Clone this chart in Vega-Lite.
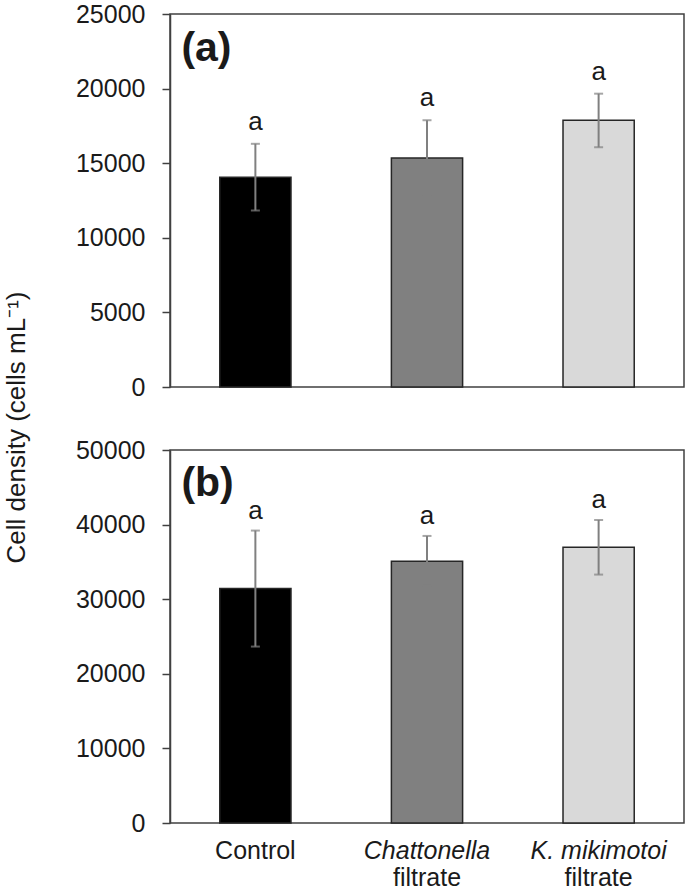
{
  "$schema": "https://vega.github.io/schema/vega-lite/v6.json",
  "padding": {"left": 2, "top": 1, "right": 2, "bottom": 0},
  "bounds": "flush",
  "spacing": 63,
  "config": {
    "font": "Liberation Sans",
    "view": {"stroke": "#404040", "strokeWidth": 1.5},
    "axis": {
      "labelFont": "Liberation Sans",
      "labelColor": "#1a1a1a",
      "titleFont": "Liberation Sans",
      "titleColor": "#1a1a1a",
      "titleFontWeight": "normal",
      "domainColor": "#404040",
      "domainWidth": 1.5,
      "tickColor": "#404040",
      "tickWidth": 1.5,
      "grid": false
    },
    "text": {"font": "Liberation Sans", "color": "#1a1a1a"}
  },
  "datasets": {
    "cells": [
      {"panel": "a", "group": "Control", "mean": 14050, "lo": 11830, "hi": 16300, "sig": "a"},
      {"panel": "a", "group": "Chattonella", "mean": 15350, "lo": 12800, "hi": 17880, "sig": "a"},
      {"panel": "a", "group": "K. mikimotoi", "mean": 17880, "lo": 16070, "hi": 19660, "sig": "a"},
      {"panel": "b", "group": "Control", "mean": 31450, "lo": 23650, "hi": 39200, "sig": "a"},
      {"panel": "b", "group": "Chattonella", "mean": 35100, "lo": 31800, "hi": 38480, "sig": "a"},
      {"panel": "b", "group": "K. mikimotoi", "mean": 36950, "lo": 33300, "hi": 40620, "sig": "a"}
    ]
  },
  "vconcat": [
    {
      "width": 514,
      "height": 373,
      "data": {"name": "cells"},
      "transform": [{"filter": "datum.panel == 'a'"}],
      "encoding": {
        "x": {
          "field": "group",
          "type": "nominal",
          "sort": ["Control", "Chattonella", "K. mikimotoi"],
          "scale": {"paddingInner": 0.585, "paddingOuter": 0.29},
          "axis": null
        }
      },
      "layer": [
        {
          "mark": {"type": "bar", "stroke": "#262626", "strokeWidth": 1.5},
          "encoding": {
            "y": {
              "field": "mean",
              "type": "quantitative",
              "scale": {"domain": [0, 25000], "nice": false},
              "axis": {
                "values": [0, 5000, 10000, 15000, 20000, 25000],
                "format": "d",
                "labelFontSize": 25,
                "tickSize": 8,
                "labelPadding": 17,
                "title": "Cell density (cells mL⁻¹)",
                "titleFontSize": 26,
                "titleAngle": -90,
                "titleX": -154,
                "titleY": 413,
                "titleAlign": "center",
                "titleBaseline": "middle"
              }
            },
            "fill": {
              "field": "group",
              "type": "nominal",
              "scale": {"domain": ["Control", "Chattonella", "K. mikimotoi"], "range": ["#000000", "#808080", "#d9d9d9"]},
              "legend": null
            }
          }
        },
        {
          "mark": {"type": "rule", "color": "#808080", "strokeWidth": 2},
          "encoding": {"y": {"field": "lo", "type": "quantitative"}, "y2": {"field": "hi"}}
        },
        {
          "mark": {"type": "tick", "orient": "horizontal", "color": "#808080", "size": 9, "thickness": 2},
          "encoding": {"y": {"field": "lo", "type": "quantitative"}}
        },
        {
          "mark": {"type": "tick", "orient": "horizontal", "color": "#808080", "size": 9, "thickness": 2},
          "encoding": {"y": {"field": "hi", "type": "quantitative"}}
        },
        {
          "mark": {"type": "text", "fontSize": 26, "baseline": "alphabetic", "dy": -14},
          "encoding": {"y": {"field": "hi", "type": "quantitative"}, "text": {"field": "sig"}}
        },
        {
          "data": {"values": [{"label": "(a)"}]},
          "mark": {"type": "text", "fontSize": 41, "fontWeight": "bold", "align": "left", "baseline": "middle", "dx": -74},
          "encoding": {
            "x": {"datum": "Control"},
            "y": {"datum": 22650},
            "text": {"field": "label"}
          }
        }
      ]
    },
    {
      "width": 514,
      "height": 373,
      "data": {"name": "cells"},
      "transform": [{"filter": "datum.panel == 'b'"}],
      "resolve": {"axis": {"x": "independent"}},
      "layer": [
        {
          "mark": {"type": "bar", "stroke": "#262626", "strokeWidth": 1.5},
          "encoding": {
            "x": {
              "field": "group",
              "type": "nominal",
              "sort": ["Control", "Chattonella", "K. mikimotoi"],
              "scale": {"paddingInner": 0.585, "paddingOuter": 0.29},
              "axis": {
                "orient": "bottom",
                "title": null,
                "domain": false,
                "ticks": false,
                "labelAngle": 0,
                "labelFontSize": 25,
                "labelPadding": 15,
                "labelFontStyle": {"condition": {"test": "datum.value == 'Control'", "value": "normal"}, "value": "italic"}
              }
            },
            "y": {
              "field": "mean",
              "type": "quantitative",
              "scale": {"domain": [0, 50000], "nice": false},
              "axis": {
                "values": [0, 10000, 20000, 30000, 40000, 50000],
                "format": "d",
                "labelFontSize": 25,
                "tickSize": 8,
                "labelPadding": 17,
                "title": null
              }
            },
            "fill": {
              "field": "group",
              "type": "nominal",
              "scale": {"domain": ["Control", "Chattonella", "K. mikimotoi"], "range": ["#000000", "#808080", "#d9d9d9"]},
              "legend": null
            }
          }
        },
        {
          "mark": {"type": "rule", "color": "#808080", "strokeWidth": 2},
          "encoding": {
            "x": {
              "field": "group",
              "type": "nominal",
              "sort": ["Control", "Chattonella", "K. mikimotoi"],
              "axis": {
                "orient": "bottom",
                "title": null,
                "domain": false,
                "ticks": false,
                "labelAngle": 0,
                "labelFontSize": 25,
                "labelPadding": 42,
                "labelExpr": "datum.value == 'Control' ? '' : 'filtrate'"
              }
            },
            "y": {"field": "lo", "type": "quantitative"},
            "y2": {"field": "hi"}
          }
        },
        {
          "mark": {"type": "tick", "orient": "horizontal", "color": "#808080", "size": 9, "thickness": 2},
          "encoding": {
            "x": {"field": "group", "type": "nominal", "sort": ["Control", "Chattonella", "K. mikimotoi"], "axis": null},
            "y": {"field": "lo", "type": "quantitative"}
          }
        },
        {
          "mark": {"type": "tick", "orient": "horizontal", "color": "#808080", "size": 9, "thickness": 2},
          "encoding": {
            "x": {"field": "group", "type": "nominal", "sort": ["Control", "Chattonella", "K. mikimotoi"], "axis": null},
            "y": {"field": "hi", "type": "quantitative"}
          }
        },
        {
          "mark": {"type": "text", "fontSize": 26, "baseline": "alphabetic", "dy": -12},
          "encoding": {
            "x": {"field": "group", "type": "nominal", "sort": ["Control", "Chattonella", "K. mikimotoi"], "axis": null},
            "y": {"field": "hi", "type": "quantitative"},
            "text": {"field": "sig"}
          }
        },
        {
          "data": {"values": [{"label": "(b)"}]},
          "mark": {"type": "text", "fontSize": 41, "fontWeight": "bold", "align": "left", "baseline": "middle", "dx": -74},
          "encoding": {
            "x": {"datum": "Control", "axis": null},
            "y": {"datum": 45500},
            "text": {"field": "label"}
          }
        }
      ]
    }
  ]
}
